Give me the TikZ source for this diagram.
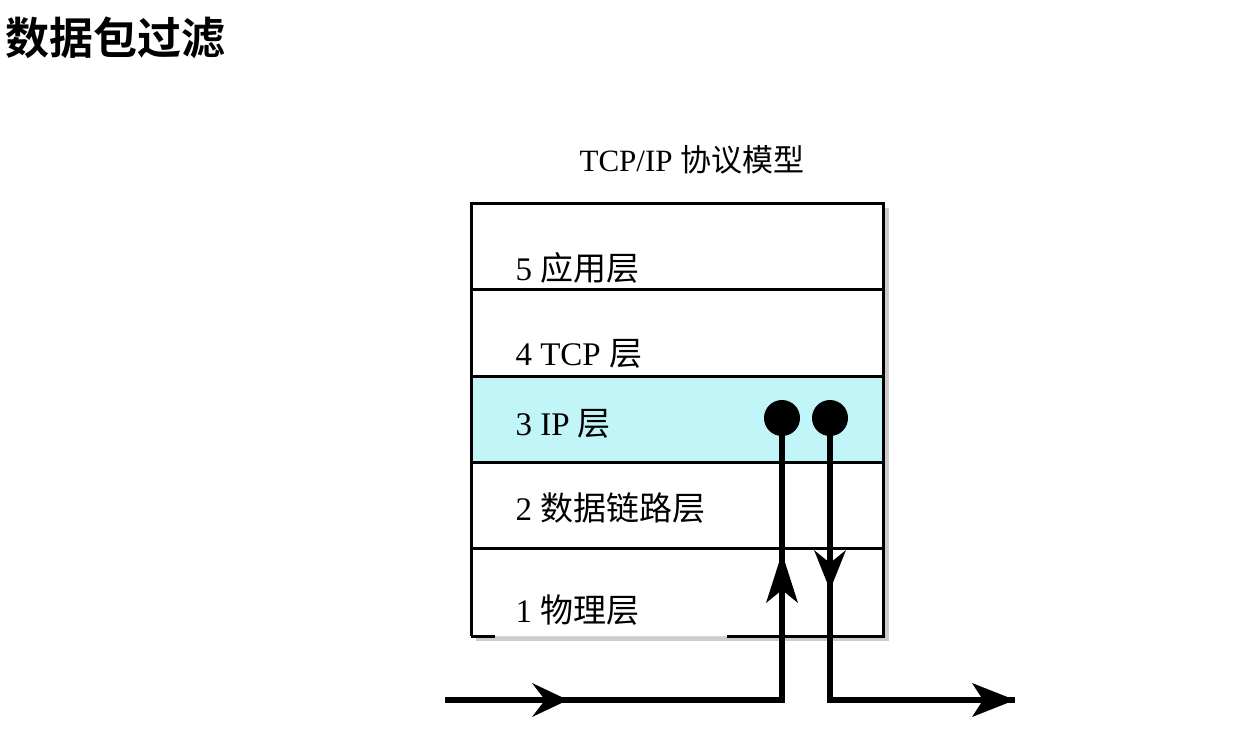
\documentclass[tikz,border=0pt]{standalone}
\usepackage{fontspec}
\setmainfont{Liberation Serif}
\newfontfamily\cjk{Noto Sans CJK SC}
\newfontfamily\cjkb{Noto Sans CJK SC Bold}
\definecolor{ipc}{HTML}{C2F5F7}
\begin{document}
\begin{tikzpicture}[x=1pt,y=-1pt,
  lay/.style={anchor=west,font=\fontsize{33}{33}\selectfont},
  flow/.style={line width=6pt}]
\useasboundingbox (0,0) rectangle (1236,732);
\node[anchor=west,font=\cjkb\fontsize{44}{44}\selectfont] (title) at (2,38) {数据包过滤};
\node[font=\fontsize{31}{31}\selectfont] (head) at (692,160) {TCP/IP {\cjk 协议模型}};
% shadow
\fill[gray!40] (476,208) rectangle (889,641);
\fill[white] (471,203) rectangle (883,636);
\fill[ipc] (471,376) rectangle (883,462);
\draw[line width=3pt] (471,636) -- (471,203) -- (883,203) -- (883,636) -- (727,636);
\draw[line width=3pt] (471,636) -- (495,636);
\draw[line width=1pt,gray!30] (495,636) -- (727,636);
\foreach \y in {289,376,462,548} \draw[line width=3pt] (471,\y) -- (883,\y);
\node[lay] (l5) at (512,268) {5 {\cjk 应用层}};
\node[lay] (l4) at (512,354) {4 TCP {\cjk 层}};
\node[lay] (l3) at (512,424) {3 IP {\cjk 层}};
\node[lay] (l2) at (512,508) {2 {\cjk 数据链路层}};
\node[lay] (l1) at (512,610) {1 {\cjk 物理层}};
\coordinate (in) at (445,700);
\coordinate (c1) at (782,700);
\coordinate (c2) at (830,700);
\coordinate (out) at (1015,700);
\node[circle,fill=black,minimum size=36pt,inner sep=0] (d1) at (782,418) {};
\node[circle,fill=black,minimum size=36pt,inner sep=0] (d2) at (830,418) {};
\draw[flow] (in) -- (c1) -- (d1.center);
\draw[flow] (d2.center) -- (c2) -- (out);
\fill (532,683) -- (568,700) -- (532,717) -- (545,700) -- cycle;
\fill (1015,700) -- (972,683) -- (983,700) -- (972,717) -- cycle;
\fill (782,553) -- (766,603) -- (782,590) -- (798,603) -- cycle;
\fill (830,590) -- (814,550) -- (830,563) -- (846,550) -- cycle;
\end{tikzpicture}
\end{document}
